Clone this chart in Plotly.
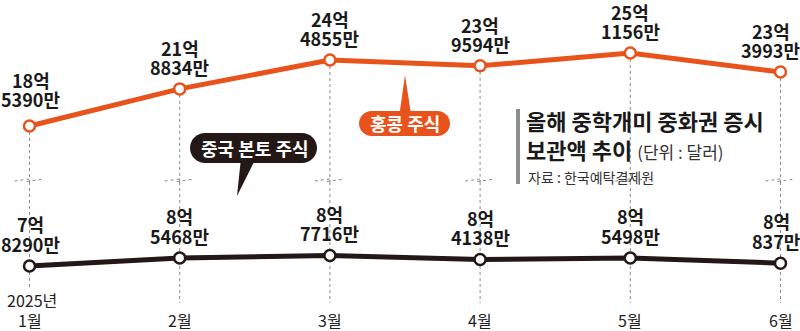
import plotly.graph_objects as go

months = ["1월", "2월", "3월", "4월", "5월", "6월"]
hk_values = [18.5390, 21.8834, 24.4855, 23.9594, 25.1156, 23.3993]  # 억 달러
hk_eok = ["18억", "21억", "24억", "23억", "25억", "23억"]
hk_man = ["5390만", "8834만", "4855만", "9594만", "1156만", "3993만"]
cn_values = [7.8290, 8.5468, 8.7716, 8.4138, 8.5498, 8.0837]
cn_eok = ["7억", "8억", "8억", "8억", "8억", "8억"]
cn_man = ["8290만", "5468만", "7716만", "4138만", "5498만", "837만"]

W, H = 800, 331
ORANGE = "#e8531c"
BLACK = "#231815"
GRID = "#8a8a8a"
FONT = "Noto Sans CJK KR"

xs = list(range(len(months)))
x_px_per = 150.2
x0_px = 29.5
x_range = [-x0_px / x_px_per, (W - x0_px) / x_px_per]

px_per = 11.1
brk_px = 182
split = (H - brk_px) / H
y2_top = hk_values[0] + 126 / px_per
y2_bot = y2_top - brk_px / px_per
y_top = cn_values[0] + (266 - brk_px) / px_per
y_bot = y_top - (H - brk_px) / px_per


def py(pix):
    return 1 - pix / H


def px_x(p):
    return p / W


def pill(x0, x1, y0, y1):
    r = (y1 - y0) / 2
    k = 0.5523 * r
    P = lambda x, y: "{:.5f},{:.5f}".format(px_x(x), py(y))
    d = "M " + P(x0 + r, y0)
    d += " L " + P(x1 - r, y0)
    d += " C " + P(x1 - r + k, y0) + " " + P(x1, y0 + r - k) + " " + P(x1, y0 + r)
    d += " C " + P(x1, y0 + r + k) + " " + P(x1 - r + k, y1) + " " + P(x1 - r, y1)
    d += " L " + P(x0 + r, y1)
    d += " C " + P(x0 + r - k, y1) + " " + P(x0, y0 + r + k) + " " + P(x0, y0 + r)
    d += " C " + P(x0, y0 + r - k) + " " + P(x0 + r - k, y0) + " " + P(x0 + r, y0)
    d += " Z"
    return d


def tri(a, b, c):
    P = lambda p: "{:.5f},{:.5f}".format(px_x(p[0]), py(p[1]))
    return "M " + P(a) + " L " + P(b) + " L " + P(c) + " Z"


fig = go.Figure()

fig.add_trace(go.Scatter(
    x=xs, y=hk_values, yaxis="y2", mode="lines+markers",
    line=dict(color=ORANGE, width=5),
    marker=dict(size=11, color="white", line=dict(color=ORANGE, width=2.5)),
    hoverinfo="skip", showlegend=False))
fig.add_trace(go.Scatter(
    x=xs, y=cn_values, yaxis="y", mode="lines+markers",
    line=dict(color=BLACK, width=5),
    marker=dict(size=11, color="white", line=dict(color=BLACK, width=2.5)),
    hoverinfo="skip", showlegend=False))

shapes = []
annotations = []
LBL = dict(family=FONT, size=18, color="#1a1a1a", weight="bold")
for i, (hv, cv) in enumerate(zip(hk_values, cn_values)):
    shapes.append(dict(type="line", xref="x", yref="y2", x0=i, x1=i, y0=hv, y1=y2_bot,
                       line=dict(color=GRID, width=1, dash="dot"), layer="below"))
    low_px = 288 if i == 0 else 303
    shapes.append(dict(type="line", xref="x", yref="paper", x0=i, x1=i, y0=split, y1=py(low_px),
                       line=dict(color=GRID, width=1, dash="dot"), layer="below"))
    dx = 15 / x_px_per
    shapes.append(dict(type="line", xref="x", yref="paper", x0=i - dx, x1=i + 0.2 * dx,
                       y0=py(181), y1=py(178.5), line=dict(color=GRID, width=1, dash="dot")))
    shapes.append(dict(type="line", xref="x", yref="paper", x0=i - 0.2 * dx, x1=i + dx,
                       y0=py(181.5), y1=py(179), line=dict(color=GRID, width=1, dash="dot")))
    extra = 5 if i == 0 else 0
    xsh = -10 if i == 5 else (1 if i == 0 else 0)
    annotations.append(dict(x=i, y=hv, xref="x", yref="y2", text=hk_eok[i], showarrow=False,
                            xanchor="center", yanchor="middle", yshift=41 + extra, xshift=xsh, font=LBL))
    annotations.append(dict(x=i, y=hv, xref="x", yref="y2", text=hk_man[i], showarrow=False,
                            xanchor="center", yanchor="middle", yshift=22 + extra, xshift=xsh, font=LBL))
    xsh2 = -4 if i == 5 else (1 if i == 0 else 0)
    annotations.append(dict(x=i, y=cv, xref="x", yref="y", text=cn_eok[i], showarrow=False,
                            xanchor="center", yanchor="middle", yshift=42, xshift=xsh2, font=LBL))
    annotations.append(dict(x=i, y=cv, xref="x", yref="y", text=cn_man[i], showarrow=False,
                            xanchor="center", yanchor="middle", yshift=22.5, xshift=xsh2, font=LBL))
    annotations.append(dict(x=i, y=py(320), xref="x", yref="paper", text=months[i], showarrow=False,
                            xanchor="center", yanchor="middle",
                            font=dict(family=FONT, size=16, color="#222")))

annotations.append(dict(x=0, y=py(299.5), xref="x", yref="paper", text="2025년", showarrow=False,
                        xanchor="center", yanchor="middle", xshift=2,
                        font=dict(family=FONT, size=16, color="#222")))

# callout: 중국 본토 주식 (black pill)
shapes.append(dict(type="path", xref="paper", yref="paper",
                   path=tri((241, 158), (256, 158), (237, 196)),
                   fillcolor=BLACK, line=dict(width=0)))
shapes.append(dict(type="path", xref="paper", yref="paper", path=pill(190, 317, 133, 163),
                   fillcolor=BLACK, line=dict(width=0)))
annotations.append(dict(x=px_x(254.5), y=py(148), xref="paper", yref="paper", text="중국 본토 주식",
                        showarrow=False, xanchor="center", yanchor="middle",
                        font=dict(family=FONT, size=18, color="white", weight="bold")))

# callout: 홍콩 주식 (orange pill)
shapes.append(dict(type="path", xref="paper", yref="paper",
                   path=tri((399.5, 114), (411, 114), (405, 75)),
                   fillcolor=ORANGE, line=dict(width=0)))
shapes.append(dict(type="path", xref="paper", yref="paper", path=pill(359, 450, 111, 136),
                   fillcolor=ORANGE, line=dict(width=0)))
annotations.append(dict(x=px_x(404.5), y=py(123.5), xref="paper", yref="paper", text="홍콩 주식",
                        showarrow=False, xanchor="center", yanchor="middle",
                        font=dict(family=FONT, size=18, color="white", weight="bold")))

# title block
shapes.append(dict(type="rect", xref="paper", yref="paper", x0=px_x(516), x1=px_x(520),
                   y0=py(184), y1=py(109), fillcolor="#8c8c8c", line=dict(width=0)))
annotations.append(dict(x=px_x(524), y=py(120), xref="paper", yref="paper", xanchor="left",
                        yanchor="middle", text="올해 중학개미 중화권 증시", showarrow=False,
                        font=dict(family=FONT, size=22, color="#1a1a1a", weight="bold")))
annotations.append(dict(x=px_x(524), y=py(149), xref="paper", yref="paper", xanchor="left",
                        yanchor="middle",
                        text="<b>보관액 추이</b> <span style='font-size:17px;font-weight:normal;color:#333'>(단위 : 달러)</span>",
                        showarrow=False,
                        font=dict(family=FONT, size=22, color="#1a1a1a")))
annotations.append(dict(x=px_x(526), y=py(177), xref="paper", yref="paper", xanchor="left",
                        yanchor="middle", text="자료 : 한국예탁결제원", showarrow=False,
                        font=dict(family=FONT, size=14, color="#333")))

fig.update_layout(
    width=W, height=H, margin=dict(l=0, r=0, t=0, b=0),
    paper_bgcolor="white", plot_bgcolor="white",
    xaxis=dict(range=x_range, visible=False, fixedrange=True),
    yaxis=dict(domain=[0, split], range=[y_bot, y_top], visible=False),
    yaxis2=dict(domain=[split, 1], range=[y2_bot, y2_top], visible=False),
    shapes=shapes, annotations=annotations, showlegend=False,
)

fig.write_html("out.html")
